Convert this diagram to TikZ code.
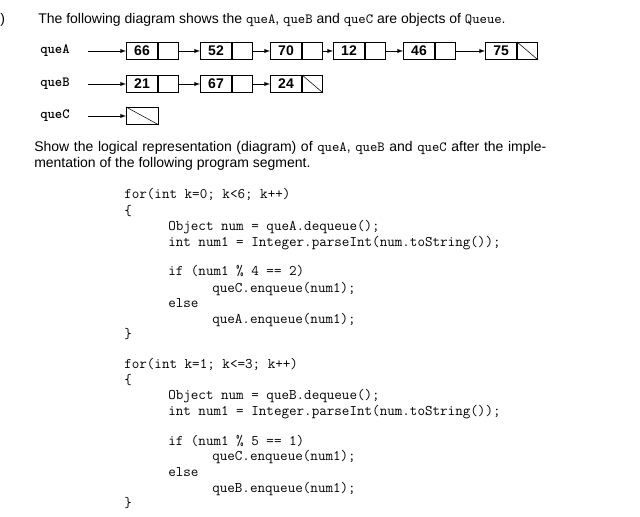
\documentclass[tikz,border=0pt]{standalone}
\usepackage{fontspec}
\setmainfont{Liberation Sans}
\begin{document}
\begin{tikzpicture}[x=0.75pt,y=-0.75pt,
  dcell/.style={draw,line width=0.8pt,minimum width=31*0.75pt,minimum height=17*0.75pt,inner sep=0pt,anchor=west,font=\bfseries\fontsize{10.5}{12}\selectfont},
  pcell/.style={draw,line width=0.8pt,minimum width=20*0.75pt,minimum height=17*0.75pt,inner sep=0pt,anchor=west},
  link/.style={-latex,line width=0.5pt},
  lbl/.style={anchor=west,inner sep=0pt,font=\ttfamily\bfseries\fontsize{10.5}{11}\selectfont},
  code/.style={anchor=base west,inner sep=0pt,font=\ttfamily\fontsize{11}{12}\selectfont},
  txt/.style={anchor=base west,inner sep=0pt,font=\fontsize{10.5}{12}\selectfont}]
\path[use as bounding box,fill=white] (0,0) rectangle (640,517);
\node[txt] (mk) at (0,24) {)};
\node[txt] (t1) at (38,24) {The following diagram shows the {\ttfamily queA}, {\ttfamily queB} and {\ttfamily queC} are objects of {\ttfamily Queue}.};
% row A
\node[lbl] (lA) at (40,51) {queA};
\foreach \v/\x/\n in {66/126/a1,52/200/a2,70/270/a3,12/333/a4,46/403/a5,75/485/a6}{
  \node[dcell] (\n) at (\x,51) {\v};
  \node[pcell] (\n-p) at (\n.east) {};
}
\draw (a6-p.north west) -- (a6-p.south east);
\coordinate (sA) at (88,51);
\draw[link] (sA) -- (a1.west);
\draw[link] (a1-p.east) -- (a2.west);
\draw[link] (a2-p.east) -- (a3.west);
\draw[link] (a3-p.east) -- (a4.west);
\draw[link] (a4-p.east) -- (a5.west);
\draw[link] (a5-p.east) -- (a6.west);
% row B
\node[lbl] (lB) at (40,84) {queB};
\foreach \v/\x/\n in {21/126/b1,67/200/b2,24/270/b3}{
  \node[dcell] (\n) at (\x,84) {\v};
  \node[pcell] (\n-p) at (\n.east) {};
}
\draw (b3-p.north west) -- (b3-p.south east);
\coordinate (sB) at (88,84);
\draw[link] (sB) -- (b1.west);
\draw[link] (b1-p.east) -- (b2.west);
\draw[link] (b2-p.east) -- (b3.west);
% row C
\node[lbl] (lC) at (40,116) {queC};
\node[pcell,minimum width=32*0.75pt] (c1) at (126,116) {};
\draw (c1.north west) -- (c1.south east);
\coordinate (sC) at (88,116);
\draw[link] (sC) -- (c1.west);
% paragraph
\node[txt,text width=512*0.75pt,align=justify,anchor=north west] (p1) at (34,141) {\hyphenpenalty=10000 Show the logical representation (diagram) of {\ttfamily queA}, {\ttfamily queB} and {\ttfamily queC} after the implementation of the following program segment.};
% code
\foreach \y/\x/\s [count=\i] in {
 199/124/{for(int k=0; k<6; k++)},
 215/124/{\{},
 230/168/{Object num = queA.dequeue();},
 246/168/{int num1 = Integer.parseInt(num.toString());},
 276/168/{if (num1 \% 4 == 2)},
 292/212/{queC.enqueue(num1);},
 307/168/{else},
 323/212/{queA.enqueue(num1);},
 338/124/{\}},
 368/124/{for(int k=1; k<=3; k++)},
 384/124/{\{},
 399/168/{Object num = queB.dequeue();},
 415/168/{int num1 = Integer.parseInt(num.toString());},
 445/168/{if (num1 \% 5 == 1)},
 460/212/{queC.enqueue(num1);},
 476/168/{else},
 492/212/{queB.enqueue(num1);},
 507/124/{\}}}{
  \node[code] (code\i) at (\x,\y) {\s};
}
\end{tikzpicture}
\end{document}
